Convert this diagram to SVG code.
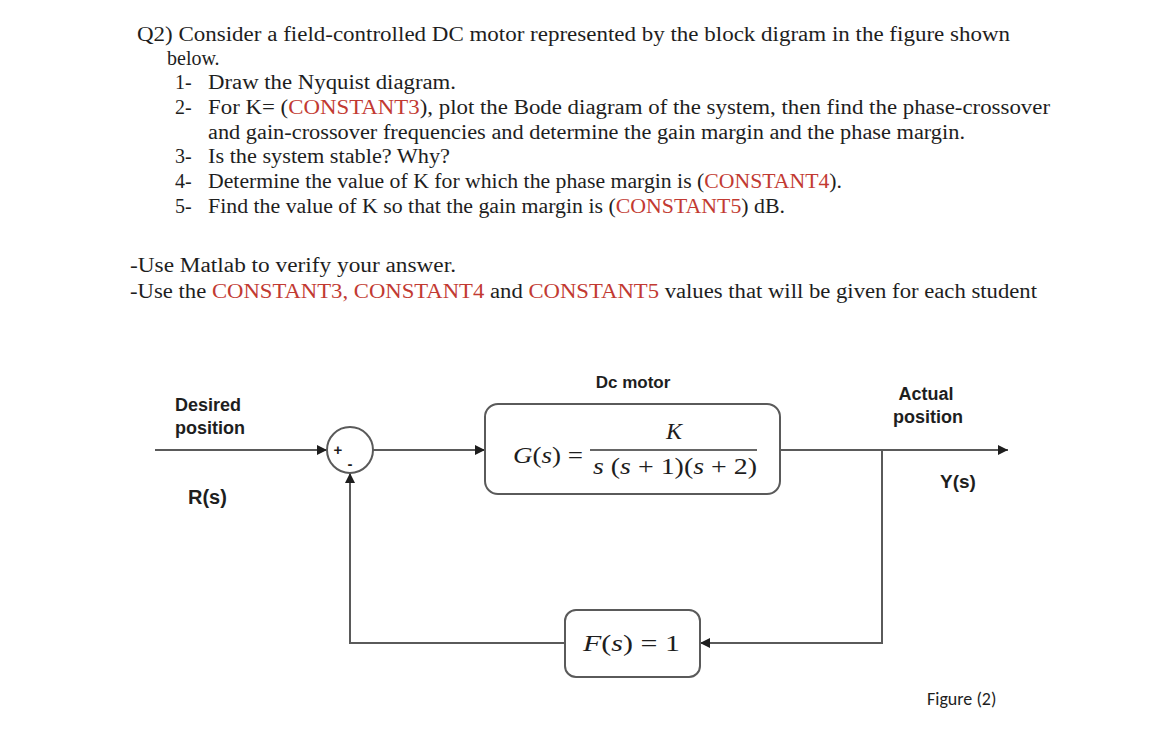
<svg xmlns="http://www.w3.org/2000/svg" width="1152" height="747" viewBox="0 0 1152 747">
<style>
.q{font-family:"Liberation Serif","Times New Roman",serif;font-size:20px;fill:#1e1e1e}
.r{fill:#c23a32}
.lb{font-family:"Liberation Sans",Arial,sans-serif;font-weight:bold;fill:#1e1e1e}
.m{font-family:"Liberation Serif","Times New Roman",serif;font-size:24px;fill:#1e1e1e}
.i{font-style:italic}
.ln{stroke:#5a5a5a;stroke-width:2;fill:none}
.bx{stroke:#5a5a5a;stroke-width:2;fill:#fff}
</style>
<defs>
<marker id="ah" viewBox="0 0 10 10" refX="10" refY="5" markerWidth="10" markerHeight="10" markerUnits="userSpaceOnUse" orient="auto">
<path d="M0,0 L10,5 L0,10 z" fill="#1e1e1e"/>
</marker>
</defs>
<rect width="1152" height="747" fill="#fff"/>
<g id="question">
<text class="q" x="137" y="41" textLength="873" lengthAdjust="spacingAndGlyphs">Q2) Consider a field-controlled DC motor represented by the block digram in the figure shown</text>
<text class="q" x="167" y="65">below.</text>
<text class="q" x="175" y="89">1-</text><text class="q" x="208" y="89" textLength="248" lengthAdjust="spacingAndGlyphs">Draw the Nyquist diagram.</text>
<text class="q" x="175" y="114">2-</text><text class="q" x="208" y="114" textLength="842" lengthAdjust="spacingAndGlyphs">For K= (<tspan class="r">CONSTANT3</tspan>), plot the Bode diagram of the system, then find the phase-crossover</text>
<text class="q" x="208" y="139" textLength="757" lengthAdjust="spacingAndGlyphs">and gain-crossover frequencies and determine the gain margin and the phase margin.</text>
<text class="q" x="175" y="163">3-</text><text class="q" x="208" y="163" textLength="242" lengthAdjust="spacingAndGlyphs">Is the system stable? Why?</text>
<text class="q" x="175" y="188">4-</text><text class="q" x="208" y="188" textLength="634" lengthAdjust="spacingAndGlyphs">Determine the value of K for which the phase margin is (<tspan class="r">CONSTANT4</tspan>).</text>
<text class="q" x="175" y="213">5-</text><text class="q" x="208" y="213" textLength="577" lengthAdjust="spacingAndGlyphs">Find the value of K so that the gain margin is (<tspan class="r">CONSTANT5</tspan>) dB.</text>
<text class="q" x="130" y="272" textLength="326" lengthAdjust="spacingAndGlyphs">-Use Matlab to verify your answer.</text>
<text class="q" x="130" y="298" textLength="907" lengthAdjust="spacingAndGlyphs">-Use the <tspan class="r">CONSTANT3, CONSTANT4</tspan> and <tspan class="r">CONSTANT5</tspan> values that will be given for each student</text>
</g>
<g id="connectors">
<line class="ln" x1="155" y1="450" x2="327" y2="450" marker-end="url(#ah)"/>
<line class="ln" x1="373" y1="450" x2="485" y2="450" marker-end="url(#ah)"/>
<line class="ln" x1="780" y1="450" x2="1008" y2="450" marker-end="url(#ah)"/>
<polyline class="ln" points="882,450 882,643 700,643" marker-end="url(#ah)"/>
<polyline class="ln" points="565,643 350,643 350,473" marker-end="url(#ah)"/>
</g>
<g id="summer">
<circle class="bx" cx="350" cy="450" r="23"/>
<text class="lb" x="338" y="455" font-size="15" text-anchor="middle">+</text>
<text class="lb" x="350" y="469" font-size="15" text-anchor="middle">-</text>
</g>
<g id="input-label">
<text class="lb" x="175" y="411" font-size="18">Desired</text>
<text class="lb" x="175" y="434" font-size="18">position</text>
<text class="lb" x="188" y="504" font-size="20">R(s)</text>
</g>
<g id="dc-motor">
<text class="lb" x="633" y="388" font-size="17" text-anchor="middle">Dc motor</text>
<rect class="bx" x="485" y="404" width="295" height="90" rx="13"/>
<text class="m" x="513" y="463" textLength="70" lengthAdjust="spacingAndGlyphs"><tspan class="i">G</tspan>(<tspan class="i">s</tspan>) =</text>
<text class="m i" x="674" y="439" text-anchor="middle">K</text>
<line x1="590" y1="450" x2="757" y2="450" stroke="#333" stroke-width="1.5"/>
<text class="m" x="593" y="474" textLength="164" lengthAdjust="spacingAndGlyphs"><tspan class="i">s</tspan> (<tspan class="i">s</tspan> + 1)(<tspan class="i">s</tspan> + 2)</text>
</g>
<g id="output-label">
<text class="lb" x="926" y="400" font-size="18" text-anchor="middle">Actual</text>
<text class="lb" x="928" y="423" font-size="18" text-anchor="middle">position</text>
<text class="lb" x="940" y="488" font-size="19">Y(s)</text>
</g>
<g id="feedback">
<rect class="bx" x="565" y="610" width="135" height="67" rx="11"/>
<text class="m" x="583" y="651" textLength="97" lengthAdjust="spacingAndGlyphs"><tspan class="i">F</tspan>(<tspan class="i">s</tspan>) = 1</text>
</g>
<g id="caption">
<text x="927" y="705" font-family="Carlito,'Liberation Sans',sans-serif" font-size="18" fill="#1e1e1e">Figure (2)</text>
</g>
</svg>
